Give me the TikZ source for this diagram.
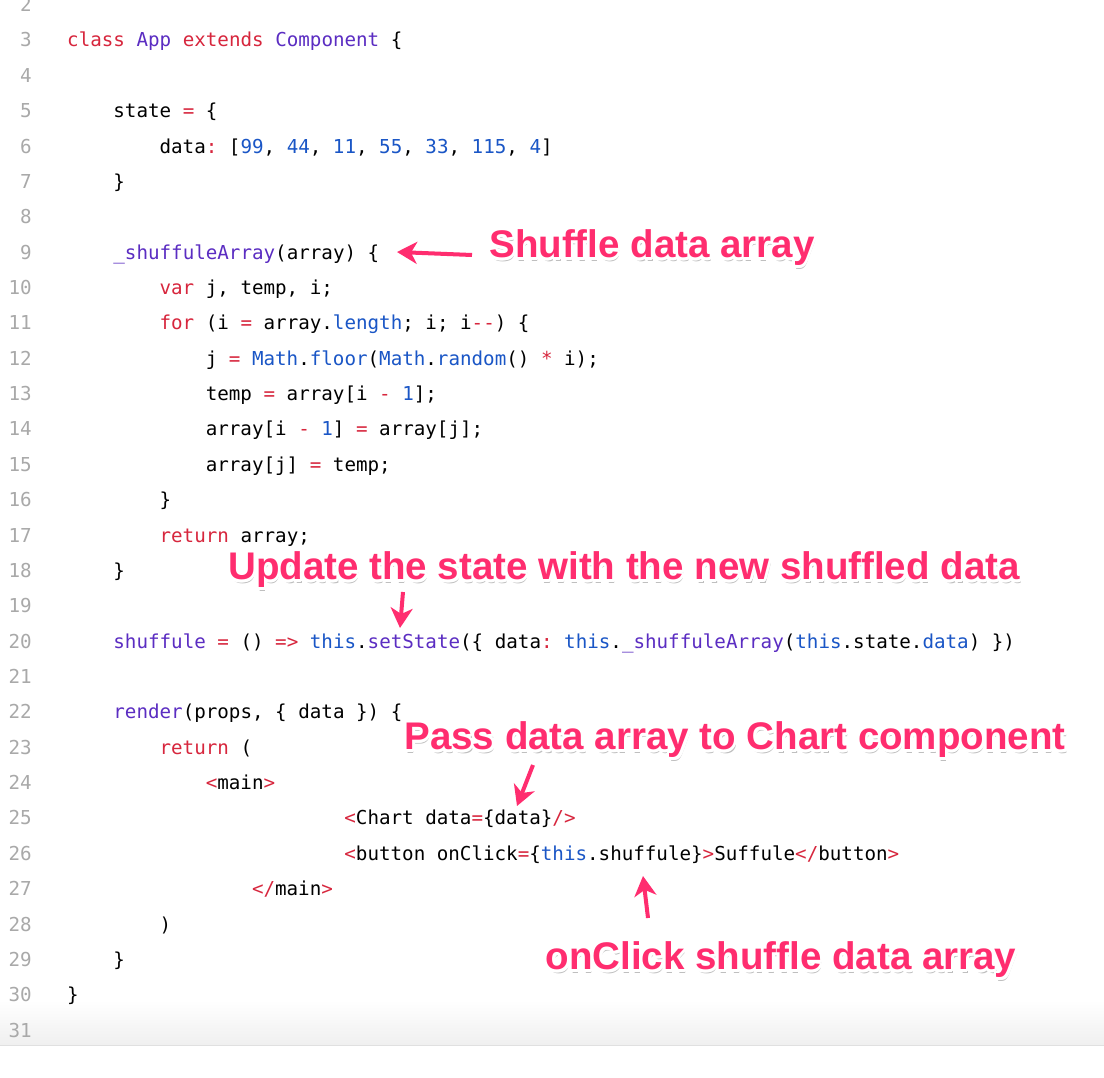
\documentclass[tikz,border=0pt]{standalone}
\usepackage{fontspec}
\setmonofont{DejaVu Sans Mono}
\newfontfamily\annfont{Liberation Sans}
\usetikzlibrary{arrows.meta}
\definecolor{kw}{HTML}{D7263D}
\definecolor{pu}{HTML}{5B2DC2}
\definecolor{bl}{HTML}{1A56C6}
\definecolor{pk}{HTML}{FF2D6F}
\definecolor{ln}{HTML}{A9A9A9}
\newcommand\kw[1]{\textcolor{kw}{#1}}
\newcommand\pu[1]{\textcolor{pu}{#1}}
\newcommand\bl[1]{\textcolor{bl}{#1}}
\tikzset{
  codel/.style={anchor=base west,inner sep=0pt,font=\ttfamily\fontsize{19.2}{20}\selectfont,text=black},
  lnum/.style={anchor=base east,inner sep=0pt,font=\ttfamily\fontsize{19.2}{20}\selectfont,text=ln},
  anntext/.style={inner sep=0pt,font=\annfont\bfseries\fontsize{38.5}{40}\selectfont},
  pkarrow/.style={draw=pk,line width=4pt,-{Stealth[length=20pt,width=22pt,inset=6pt]}},
  wharrow/.style={draw=white,line width=7pt,-{Stealth[length=23pt,width=27pt,inset=6pt]}}
}
\newcommand\ann[3]{% name, pos, text
  \foreach \dx/\dy in {1/2.5,1.5/3.5}{\node[anntext,text=black!25] at ([shift={(\dx,\dy)}]#2) {#3};}
  \foreach \a in {0,30,...,330}{\node[anntext,text=white] at ([shift={(\a:2.8)}]#2) {#3};}
  \node[anntext,text=pk] (#1) at (#2) {#3};}
\begin{document}
\begin{tikzpicture}[x=1pt,y=-1pt]
\useasboundingbox (0,0) rectangle (1104,1078);
\fill[white] (0,0) rectangle (1104,1078);
\shade[top color=white,bottom color=black!6] (0,1000) rectangle (1104,1045);
\draw[black!12] (0,1045) -- (1104,1045);
\foreach \n in {2,...,31}{\node[lnum] (n\n) at (32,{47+(\n-3)*35.36}) {\n};}
\newcommand\cl[3]{\node[codel] (c#1) at ({67+#2*11.55},{47+(#1-3)*35.36}) {#3};}
\cl{3}{0}{\kw{class} \pu{App} \kw{extends} \pu{Component} \{}
\cl{5}{4}{state \kw{=} \{}
\cl{6}{8}{data\kw{:} [\bl{99}, \bl{44}, \bl{11}, \bl{55}, \bl{33}, \bl{115}, \bl{4}]}
\cl{7}{4}{\}}
\cl{9}{4}{\pu{\_shuffuleArray}(array) \{}
\cl{10}{8}{\kw{var} j, temp, i;}
\cl{11}{8}{\kw{for} (i \kw{=} array.\bl{length}; i; i\kw{-{}-}) \{}
\cl{12}{12}{j \kw{=} \bl{Math}.\bl{floor}(\bl{Math}.\bl{random}() \kw{*} i);}
\cl{13}{12}{temp \kw{=} array[i \kw{-} \bl{1}];}
\cl{14}{12}{array[i \kw{-} \bl{1}] \kw{=} array[j];}
\cl{15}{12}{array[j] \kw{=} temp;}
\cl{16}{8}{\}}
\cl{17}{8}{\kw{return} array;}
\cl{18}{4}{\}}
\cl{20}{4}{\pu{shuffule} \kw{=} () \kw{=>} \bl{this}.\pu{setState}(\{ data\kw{:} \bl{this}.\pu{\_shuffuleArray}(\bl{this}.state.\bl{data}) \})}
\cl{22}{4}{\pu{render}(props, \{ data \}) \{}
\cl{23}{8}{\kw{return} (}
\cl{24}{12}{\kw{<}main\kw{>}}
\cl{25}{24}{\kw{<}Chart data\kw{=}\{data\}\kw{/>}}
\cl{26}{24}{\kw{<}button onClick\kw{=}\{\bl{this}.shuffule\}\kw{>}Suffule\kw{</}button\kw{>}}
\cl{27}{16}{\kw{</}main\kw{>}}
\cl{28}{8}{)}
\cl{29}{4}{\}}
\cl{30}{0}{\}}
\ann{a1}{652,248}{Shuffle data array}
\ann{a2}{624,570}{Update the state with the new shuffled data}
\ann{a3}{735,740}{Pass data array to Chart component}
\ann{a4}{781,960}{onClick shuffle data array}
\coordinate (t1) at (397,252);
\coordinate (s1) at (472,255);
\coordinate (t2) at (400,628);
\coordinate (s2) at (403,592);
\coordinate (t3) at (517,806);
\coordinate (s3) at (533,765);
\coordinate (t4) at (643,876);
\coordinate (s4) at (648,918);
\foreach \i in {1,...,4}{\draw[wharrow,shorten >=-1.5pt] (s\i) -- (t\i);}
\foreach \i in {1,...,4}{\draw[pkarrow] (s\i) -- (t\i);}
\end{tikzpicture}
\end{document}
